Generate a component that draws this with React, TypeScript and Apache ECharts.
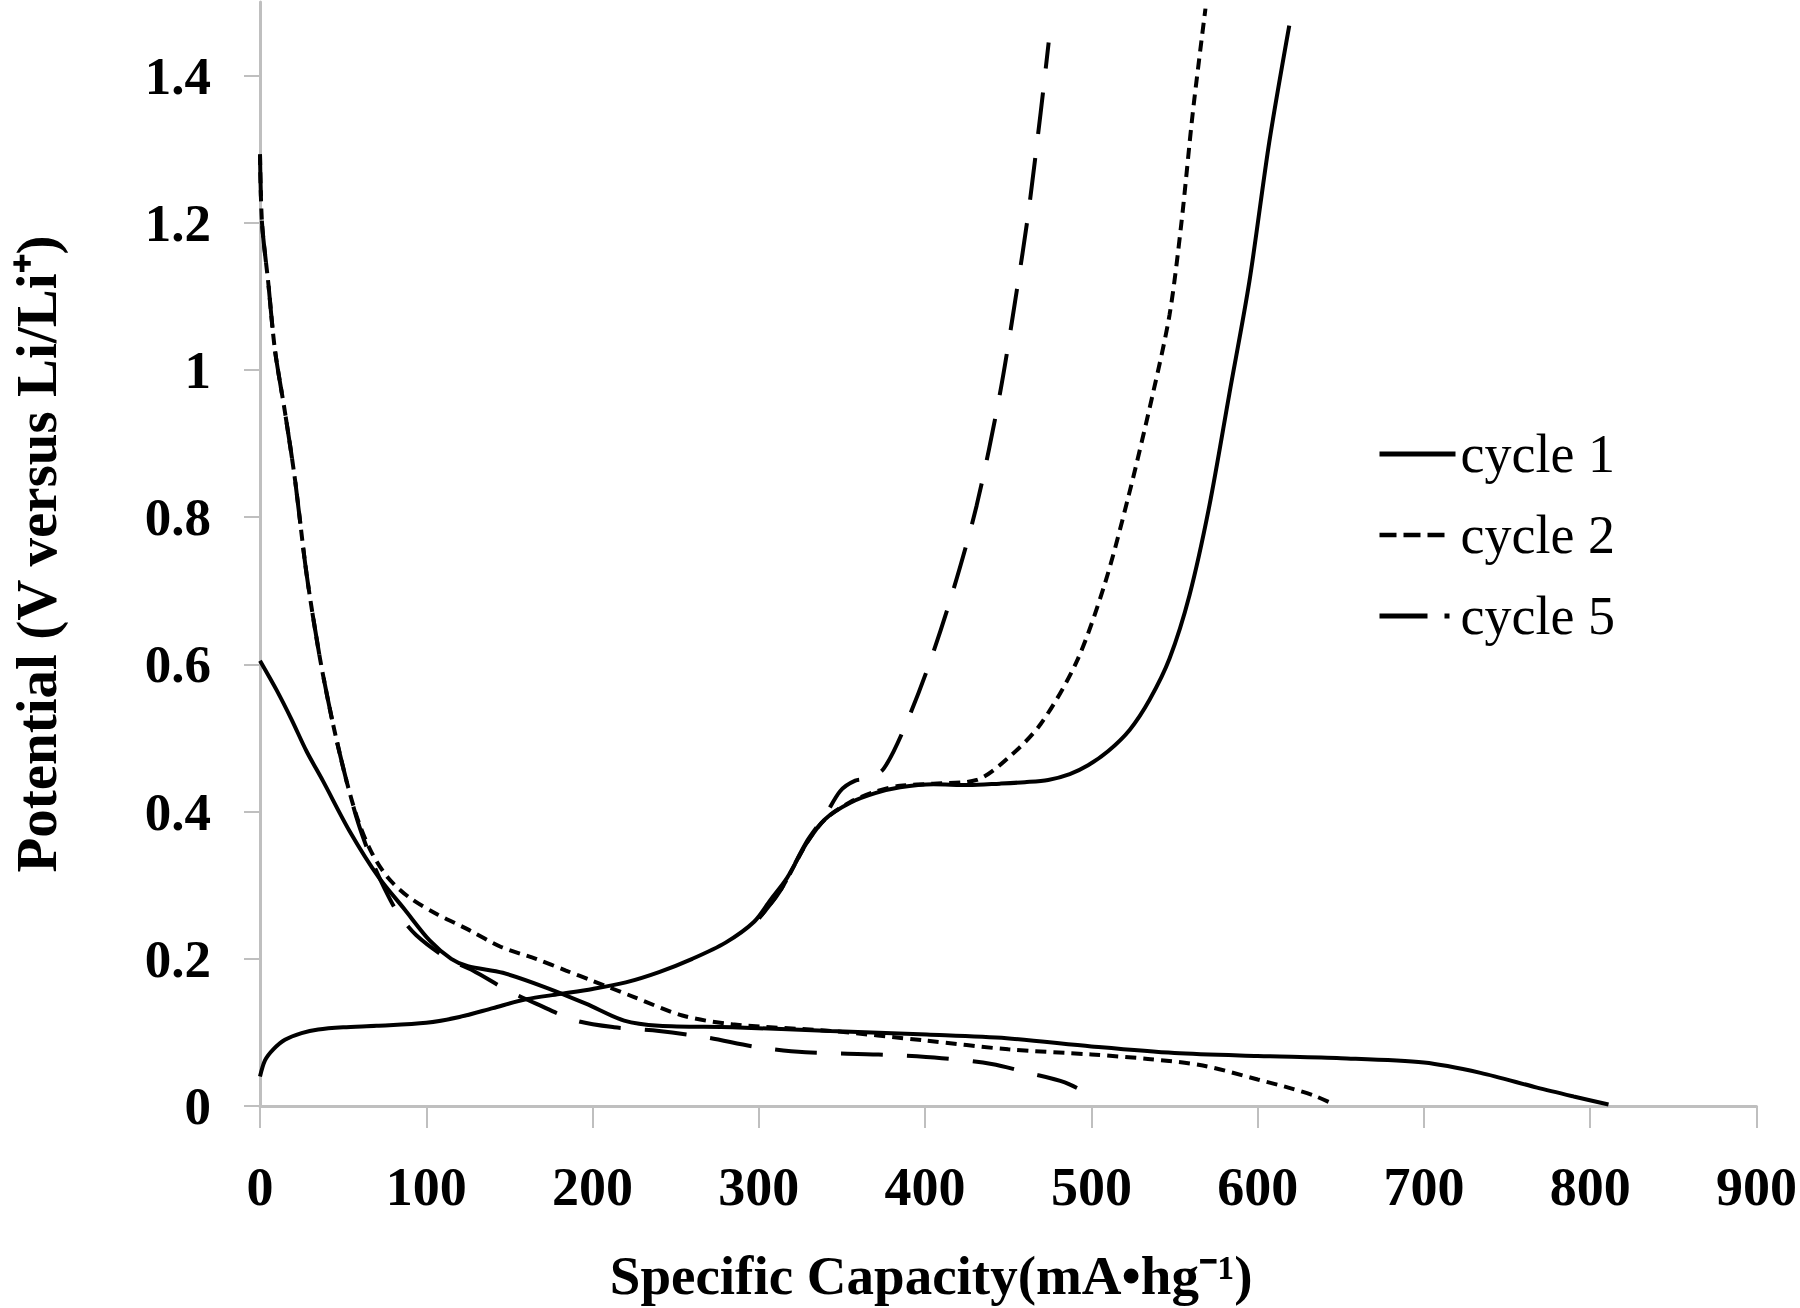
import { useEffect, useRef } from 'react';
import * as echarts from 'echarts';

type Pt = [number, number];

const cycle1Discharge: Pt[] = [
  [0, 0.605], [10, 0.565], [19, 0.525], [28, 0.482], [38, 0.441], [54, 0.373], [71, 0.312],
  [87, 0.267], [102, 0.225], [115, 0.2], [125, 0.19], [146, 0.181], [172, 0.161], [196, 0.139],
  [219, 0.116], [240, 0.109], [284, 0.107], [343, 0.102], [401, 0.097], [449, 0.092], [500, 0.081],
  [550, 0.072], [600, 0.068], [650, 0.065], [700, 0.059], [734, 0.045], [768, 0.025], [790, 0.013],
  [811, 0.002],
];
const cycle1Charge: Pt[] = [
  [0, 0.04], [3, 0.062], [8, 0.077], [15, 0.09], [25, 0.099], [35, 0.104], [50, 0.107], [70, 0.109],
  [100, 0.113], [120, 0.121], [140, 0.133], [160, 0.145], [180, 0.152], [200, 0.159], [220, 0.168],
  [240, 0.182], [260, 0.2], [280, 0.222], [297, 0.25], [307, 0.28], [317, 0.31], [329, 0.358],
  [340, 0.39], [355, 0.412], [370, 0.425], [385, 0.433], [405, 0.437], [426, 0.436], [445, 0.438],
  [460, 0.44], [474, 0.443], [487, 0.451], [498, 0.463], [510, 0.482], [523, 0.511], [535, 0.552],
  [547, 0.608], [559, 0.694], [571, 0.816], [583, 0.968], [595, 1.12], [607, 1.31], [619, 1.468],
];
const cycle2Discharge: Pt[] = [
  [0, 1.293], [1.2, 1.2], [5, 1.118], [9, 1.027], [15, 0.943], [21, 0.852], [28, 0.723], [36, 0.609],
  [44, 0.518], [52, 0.442], [59, 0.388], [67, 0.345], [77, 0.31], [90, 0.283], [107, 0.26],
  [125, 0.24], [145, 0.216], [166, 0.2], [184, 0.184], [200, 0.17], [225, 0.148], [254, 0.123],
  [284, 0.111], [343, 0.102], [400, 0.089], [450, 0.077], [500, 0.07], [534, 0.064], [567, 0.055],
  [600, 0.036], [620, 0.024], [634, 0.014], [646, 0.002],
];
const cycle2Charge: Pt[] = [
  [300, 0.255], [313, 0.293], [329, 0.358], [340, 0.39], [355, 0.413], [370, 0.427], [385, 0.435],
  [405, 0.438], [431, 0.443], [450, 0.473], [469.5, 0.519], [491, 0.603], [508, 0.709],
  [522.6, 0.831], [537, 0.968], [547, 1.075], [554, 1.197], [561, 1.35], [568.6, 1.491],
];
const cycle5Discharge: Pt[] = [
  [0, 1.293], [1.2, 1.2], [5, 1.118], [9, 1.027], [15, 0.943], [21, 0.852], [28, 0.723], [36, 0.609],
  [44, 0.518], [52, 0.442], [59, 0.385], [67, 0.335], [75, 0.295], [83, 0.262], [94, 0.232],
  [113, 0.2], [128, 0.184], [149, 0.157], [166, 0.139], [190, 0.116], [213, 0.107], [240, 0.102],
  [269, 0.093], [299, 0.08], [328, 0.073], [372, 0.07], [410, 0.065], [440, 0.057], [462, 0.045],
  [484, 0.032], [504, 0.009],
];
const cycle5Charge: Pt[] = [
  [300, 0.255], [313, 0.293], [329, 0.36], [340, 0.395], [349, 0.428], [358, 0.442], [366, 0.445],
  [375, 0.458], [387, 0.511], [401.6, 0.595], [416, 0.694], [431, 0.816], [445, 0.968], [455, 1.106],
  [462, 1.212], [469.5, 1.35], [474.3, 1.445],
];

const seriesNames = ['cycle 1', 'cycle 2', 'cycle 5'];
const yTickValues = [0, 0.2, 0.4, 0.6, 0.8, 1, 1.2, 1.4];
const xAxisTitle = 'Specific Capacity(mA•hg⁻¹)';
const yAxisTitle = 'Potential (V versus Li/Li⁺)';

const FONT = "'Liberation Serif', 'Times New Roman', serif";
const dashShort = [11, 7];
const dashLong = [42, 24];

export default function App() {
  const ref = useRef<HTMLDivElement>(null);
  useEffect(() => {
    const chart = echarts.init(ref.current!, null, { renderer: 'svg' });
    const mk = (name: string, data: Pt[], type: any) => ({
      type: 'line',
      name,
      data,
      symbol: 'none',
      smooth: 0.3,
      lineStyle: { color: '#000', width: 4, type },
      itemStyle: { color: '#000' },
      z: 3,
    });
    const hiddenSymbol = { opacity: 0, color: 'rgba(0,0,0,0)', borderWidth: 0 };
    chart.setOption({
      animation: false,
      backgroundColor: '#fff',
      grid: { left: 218, right: 42, top: 2, bottom: 176, containLabel: false },
      xAxis: {
        type: 'value',
        min: 0,
        max: 900,
        interval: 100,
        name: xAxisTitle,
        nameLocation: 'middle',
        nameGap: 142,
        nameTextStyle: {
          fontFamily: FONT, fontSize: 55, fontWeight: 'bold', color: '#000',
          padding: [0, 154, 0, 0],
        },
        axisLine: { show: true, lineStyle: { color: '#bfbfbf', width: 3 } },
        axisTick: { show: true, length: 22, lineStyle: { color: '#bfbfbf', width: 2 } },
        axisLabel: { fontFamily: FONT, fontSize: 54, fontWeight: 'bold', color: '#000', margin: 54 },
        splitLine: { show: false },
      },
      yAxis: {
        type: 'value',
        min: 0,
        max: 1.5,
        interval: 0.2,
        name: yAxisTitle,
        nameLocation: 'middle',
        nameRotate: 90,
        nameGap: 195,
        nameTextStyle: { fontFamily: FONT, fontSize: 57, fontWeight: 'bold', color: '#000' },
        axisLine: { show: true, lineStyle: { color: '#bfbfbf', width: 3 } },
        axisTick: { show: true, length: 16, customValues: yTickValues, lineStyle: { color: '#bfbfbf', width: 2 } },
        axisLabel: {
          fontFamily: FONT, fontSize: 53, fontWeight: 'bold', color: '#000', margin: 49,
          customValues: yTickValues,
        },
        splitLine: { show: false },
      },
      legend: {
        orient: 'vertical',
        left: 1372,
        top: 422,
        itemWidth: 76,
        itemHeight: 14,
        itemGap: 27,
        selectedMode: false,
        textStyle: { fontFamily: FONT, fontSize: 54, color: '#000', fontWeight: 'normal' },
        data: [
          { name: seriesNames[0], itemStyle: hiddenSymbol, lineStyle: { width: 5, type: 'solid', color: '#000' } },
          { name: seriesNames[1], itemStyle: hiddenSymbol, lineStyle: { width: 4.5, type: [17, 7, 17, 7, 17, 20], color: '#000' } },
          { name: seriesNames[2], itemStyle: hiddenSymbol, lineStyle: { width: 5, type: [48, 17, 5, 40], color: '#000' } },
        ],
      },
      series: [
        mk(seriesNames[0], cycle1Discharge, 'solid'),
        mk(seriesNames[0], cycle1Charge, 'solid'),
        mk(seriesNames[1], cycle2Discharge, dashShort),
        mk(seriesNames[1], cycle2Charge, dashShort),
        mk(seriesNames[2], cycle5Discharge, dashLong),
        mk(seriesNames[2], cycle5Charge, dashLong),
      ],
    });
    return () => chart.dispose();
  }, []);
  return (
    <div
      ref={ref}
      style={{ position: 'fixed', left: 0, top: 0, width: 1800, height: 1308, background: '#fff' }}
    />
  );
}
